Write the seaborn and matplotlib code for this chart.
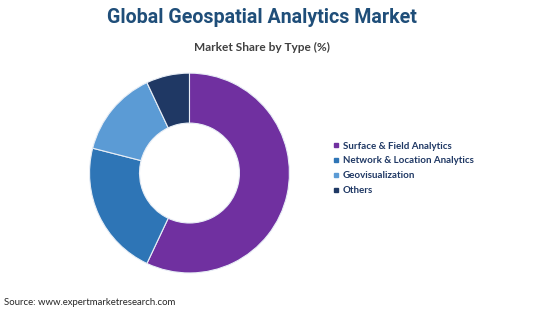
import matplotlib
matplotlib.use("Agg")
import matplotlib.pyplot as plt
from matplotlib.lines import Line2D
import seaborn as sns

# Market share by type (%)
segments = ["Surface & Field Analytics", "Network & Location Analytics",
            "Geovisualization", "Others"]
shares = [57, 22, 14, 7]
colors = ["#7030A0", "#2E75B6", "#5B9BD5", "#1F3864"]

title = "Global Geospatial Analytics Market"
subtitle = "Market Share by Type (%)"
source = "Source: www.expertmarketresearch.com"

sns.set_theme(style="white")
plt.rcParams["font.family"] = ["Lato", "DejaVu Sans"]

fig = plt.figure(figsize=(5.5, 3.09), dpi=100)
fig.patch.set_facecolor("white")

ax = fig.add_axes([0.161, 0.113, 0.367, 0.654])
wedges, _ = ax.pie(
    shares,
    colors=colors,
    startangle=90,
    counterclock=False,
    radius=1.0,
    wedgeprops=dict(width=0.5, edgecolor="#E8EEF6", linewidth=0.8),
)
ax.set_xlim(-1.01, 1.01)
ax.set_ylim(-1.01, 1.01)
ax.set_aspect("equal")
ax.axis("off")

fig.text(0.476, 0.942, title, ha="center", va="center",
         fontsize=14.1, fontweight="bold", color="#1F4E79",
         family=["Roboto", "DejaVu Sans"])
fig.text(0.477, 0.845, subtitle, ha="center", va="center",
         fontsize=8.6, fontweight="bold", color="#404040")
fig.text(0.007, 0.022, source, ha="left", va="center",
         fontsize=6.9, color="#262626")

handles = [Line2D([0], [0], marker="s", linestyle="none", markersize=3.5,
                  markerfacecolor=c, markeredgecolor=c) for c in colors]
leg = fig.legend(handles, segments, loc="upper left",
                 bbox_to_anchor=(0.606, 0.542), frameon=False,
                 handlelength=0.6, handletextpad=0.4, labelspacing=0.6,
                 borderaxespad=0, borderpad=0,
                 prop=dict(size=7, weight="bold"))
for t in leg.get_texts():
    t.set_color("#1F3864")

fig.savefig("out.png", dpi=100, facecolor="white")
